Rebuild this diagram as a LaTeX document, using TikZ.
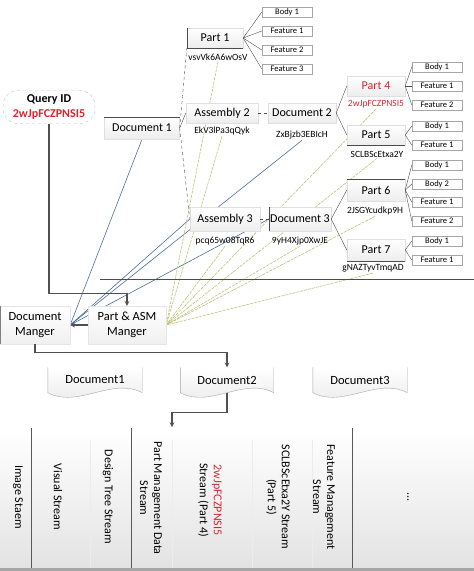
\documentclass[tikz,border=0pt]{standalone}
\usepackage{fontspec}
\setmainfont{Carlito}
\usetikzlibrary{calc}
\usetikzlibrary{backgrounds}
\definecolor{idred}{RGB}{218,37,45}
\definecolor{linkblue}{RGB}{74,110,150}
\definecolor{linkolive}{RGB}{190,192,120}
\definecolor{arrgray}{RGB}{80,80,80}

\begin{document}
\begin{tikzpicture}[x=1pt,y=-1pt,>=stealth,
  item/.style={inner sep=0pt, top color=white, bottom color=gray!14, draw=gray!25, font=\fontsize{12}{14}\selectfont},
  leaf/.style={inner sep=0pt, minimum width=50pt, minimum height=10pt, fill=white, draw=gray!70, font=\fontsize{8.5}{10}\selectfont},
  idtext/.style={inner sep=1pt, font=\fontsize{9.5}{11}\selectfont},
  mgr/.style={inner sep=0pt, minimum height=38pt, align=center, top color=white, bottom color=gray!12, draw=gray!20, font=\fontsize{12.5}{15}\selectfont},
  doctab/.style={inner sep=0pt, minimum height=25pt, font=\fontsize{12.5}{14}\selectfont},
  stream/.style={rotate=-90, align=center, font=\fontsize{12}{14}\selectfont},
  tree/.style={draw=gray!60!black, thin},
  blink/.style={draw=linkblue, line width=0.6pt},
  olink/.style={draw=linkolive, line width=0.6pt, dash pattern=on 3pt off 1pt},
  flow/.style={draw=arrgray, line width=1.1pt, ->}]
\useasboundingbox (0,0) rectangle (474,571);

% query
\node[rounded corners=15pt, minimum width=92pt, minimum height=33pt, fill=white, draw=gray!50, dashed, align=center, font=\bfseries\fontsize{12}{15}\selectfont] (query) at (49,107) {Query ID\\\textcolor{idred}{2wJpFCZPNSI5}};

% document tree
\node[item, minimum width=75pt, minimum height=22pt] (doc1) at (142,128) {Document 1};
\node[item, minimum width=56pt, minimum height=20pt] (part1) at (215,38) {Part 1};
\node[idtext] (part1id) at (218,57) {vsvVk6A6wOsV};
\foreach \t [count=\i] in {Body 1, Feature 1, Feature 2, Feature 3}
  \node[leaf] (p1l\i) at (287,{-7+19*\i}) {\t};
\node[item, minimum width=72pt, minimum height=20pt] (asm2) at (222,113) {Assembly 2};
\node[idtext] (asm2id) at (222,131) {EkV3lPa3qQyk};
\node[item, minimum width=68pt, minimum height=20pt] (doc2) at (302,113) {Document 2};
\node[idtext] (doc2id) at (302,135) {ZxBjzb3EBIcH};
\node[item, minimum width=58pt, minimum height=20pt, text=idred] (part4) at (376,86) {Part 4};
\node[idtext, text=idred] (part4id) at (376,104) {2wJpFCZPNSI5};
\foreach \t/\y [count=\i] in {Body 1/67, Feature 1/86, Feature 2/105}
  \node[leaf] (p4l\i) at (437,\y) {\t};
\node[item, minimum width=58pt, minimum height=20pt] (part5) at (376,135) {Part 5};
\node[idtext] (part5id) at (377,154) {SCLBScEtxa2Y};
\foreach \t/\y [count=\i] in {Body 1/126, Feature 1/145}
  \node[leaf] (p5l\i) at (437,\y) {\t};
\node[item, minimum width=70pt, minimum height=24pt] (asm3) at (225,219) {Assembly 3};
\node[idtext] (asm3id) at (225,241) {pcq65w08TqR6};
\node[item, minimum width=62pt, minimum height=24pt] (doc3) at (300,219) {Document 3};
\node[idtext] (doc3id) at (300,241) {9yH4Xjp0XwJE};
\node[item, minimum width=58pt, minimum height=22pt] (part6) at (376,190) {Part 6};
\node[idtext] (part6id) at (375,211) {2JSGYcudkp9H};
\foreach \t/\y [count=\i] in {Body 1/165, Body 2/184, Feature 1/202, Feature 2/221}
  \node[leaf] (p6l\i) at (437,\y) {\t};
\node[item, minimum width=58pt, minimum height=22pt] (part7) at (376,250) {Part 7};
\node[idtext] (part7id) at (373,268) {gNAZTyvTmqAD};
\foreach \t/\y [count=\i] in {Body 1/241, Feature 1/260}
  \node[leaf] (p7l\i) at (437,\y) {\t};

\draw[tree] (doc1.north west) -- (doc1.north east);
\draw[tree] (doc1.east) -- (asm2.west);
\draw[tree, dashed] (doc1.east) -- (part1.south west);
\draw[tree, dashed] (doc1.east) -- (asm3.west);
\draw[tree] (part1.north west) -- (part1.south west) -- (part1.south east);
\draw[tree, dashed] (asm2.east) -- (doc2.west);
\draw[tree, dashed] (asm3.east) -- (doc3.west);
\draw[tree] (doc3.north west) -- (doc3.south west);
\draw[tree] (doc2.east) -- (part4.west);
\draw[tree] (doc2.east) -- (part5.west);
\draw[tree] (doc3.east) -- (part6.west);
\draw[tree] (doc3.east) -- (part7.west);
\draw[tree] (part5.south west) -- (part5.south east);
\draw[tree] (part6.north west) -- (part6.north east);
\draw[tree] (part7.south west) -- (part7.south east);
\foreach \i in {1,...,4} \draw[tree] (part1.east) -- (p1l\i.west);
\foreach \i in {1,...,3} \draw[tree] (part4.east) -- (p4l\i.west);
\foreach \i in {1,2} \draw[tree] (part5.east) -- (p5l\i.west);
\foreach \i in {1,...,4} \draw[tree] (part6.east) -- (p6l\i.west);
\foreach \i in {1,2} \draw[tree] (part7.east) -- (p7l\i.west);
\draw[gray!60!black] (100,279) -- (474,279);

% managers
\node[mgr, minimum width=70pt] (docmgr) at (35,325) {Document\\Manger};
\node[mgr, minimum width=78pt] (partmgr) at (127,325) {Part \& ASM\\Manger};
\draw[gray, line width=1.5pt] (docmgr.north west) -- (docmgr.south west);
\draw[flow] (query.south) -- ++(0,170) -| (partmgr.north);
\draw[flow] (partmgr.west) -- (docmgr.east);

% documents
\node[doctab, minimum width=94pt] (tab1) at (95,380) {Document1};
\node[doctab, minimum width=93pt] (tab2) at (227,380) {Document2};
\node[doctab, minimum width=94pt] (tab3) at (360,380) {Document3};
\coordinate (tabtop) at (172,427);
\draw[flow] (docmgr.south) -- ++(0,8) -| (tab2.north);
\draw[flow] (tab2.south) -- ++(0,20) -| (tabtop);

% streams
\node[stream] (s1) at (18,497) {Image Staem};
\node[stream] (s2) at (58,497) {Visual Stream};
\node[stream] (s3) at (108,497) {Design Tree Stream};
\node[stream] (s4) at (151,498) {Part Management Data\\Stream};
\node[stream] (s5) at (210,500) {\textcolor{idred}{2wJpFCZPNSI5}\\Stream (Part 4)};
\node[stream] (s6) at (278,497) {SCLBScEtxa2Y Stream\\(Part 5)};
\node[stream] (s7) at (324,497) {Feature Management\\Stream};
\node[stream] (s8) at (408,497) {...};

\begin{scope}[on background layer]
\shade[top color=white, bottom color=gray!22] (0,428) rectangle (474,568);
\foreach \x in {90,172,252,312} \draw[gray!15] (\x,440) -- (\x,568);
\foreach \x in {31,131,352} \draw[gray!70!black] (\x,428) -- (\x,568);
\draw[gray!70, line width=3pt] (0,569.5) -- (474,569.5);
\foreach \t in {tab1,tab2,tab3} {
  \shade[top color=white, bottom color=gray!18] (\t.north west) -- (\t.south west) .. controls +(30,16) and +(-30,-16) .. (\t.south east) -- (\t.north east) -- cycle;
  \draw[gray!70] (\t.north west) -- (\t.south west) .. controls +(30,16) and +(-30,-16) .. (\t.south east) -- (\t.north east);
}
\foreach \s in {doc1.south, doc2id.south, asm3.west, doc3.west}
  \draw[blink] (\s) -- (docmgr.east);
\foreach \s in {part1id, asm2id, part4id, part5id, asm3id, doc3id, part6id, part7id}
  \draw[olink] (\s.south) -- (partmgr.east);
\end{scope}
\end{tikzpicture}
\end{document}
